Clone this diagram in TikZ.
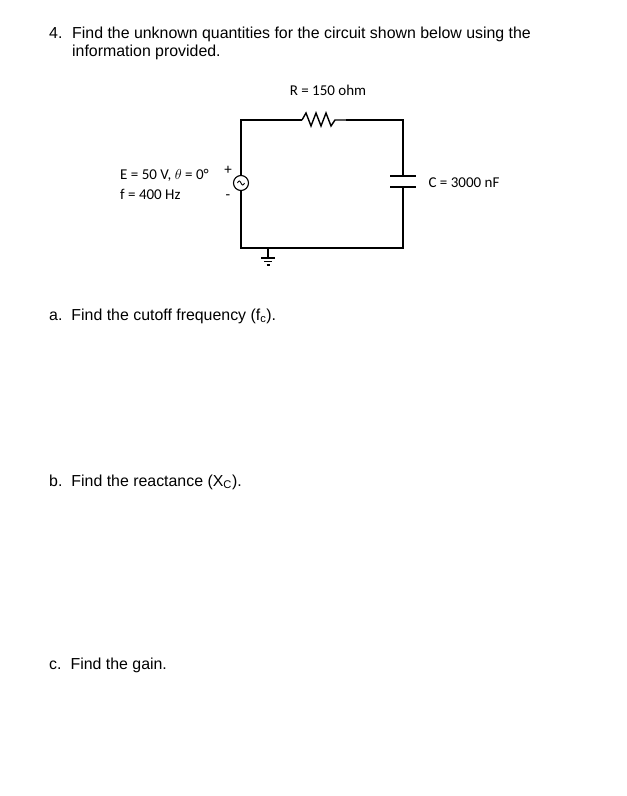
\documentclass[tikz,border=0pt]{standalone}
\usepackage{fontspec}
\setmainfont{Liberation Sans}
\newfontfamily\carlitofont{Carlito}
\usetikzlibrary{positioning}
\tikzstyle{question}=[anchor=base west,inner sep=0pt,font=\fontsize{15.9}{18}\selectfont]
\tikzstyle{label}=[inner sep=0pt,font=\carlitofont\fontsize{15}{17}\selectfont]
\tikzstyle{wire}=[line width=1.4pt]
\begin{document}
\begin{tikzpicture}[x=1pt,y=-1pt]
	\useasboundingbox[fill=white] (0,0) rectangle (627,796);
	% questions
	\node[question] (q) at (49,38) {4.};
	\node[question] (q1) at (72,38) {Find the unknown quantities for the circuit shown below using the};
	\node[question] (q2) at (72,56) {information provided.};
	\node[question] (qa) at (49,320) {a.\hspace{9pt}Find the cutoff frequency (f\textsubscript{c}).};
	\node[question] (qb) at (49,486) {b.\hspace{9pt}Find the reactance (X\textsubscript{C}).};
	\node[question] (qc) at (49,669) {c.\hspace{9pt}Find the gain.};

	% corners
	\coordinate (tl) at (241,120);
	\coordinate (tr) at (403,120);
	\coordinate (bl) at (241,248);
	\coordinate (br) at (403,248);
	\coordinate (ra) at (302,120);
	\coordinate (rb) at (346,120);
	\coordinate (ca) at (403,176);
	\coordinate (cb) at (403,187);
	\coordinate (gnd) at (268,248);

	% source
	\node[draw,line width=1.1pt,circle,minimum size=15pt,inner sep=0pt] (src) at (241,183) {};
	\draw[line width=0.9pt] ([xshift=-3.5pt]src.center) sin ++(1.75,-2) cos ++(1.75,2) sin ++(1.75,2) cos ++(1.75,-2);

	% wires
	\draw[wire] (src.north) -- (tl) -- (ra);
	\draw[wire] (ra) -- ++(4,-7) -- ++(5,13) -- ++(5,-13) -- ++(5,13) -- ++(5,-13) -- ++(5,13) -- ++(4,-6) -- (rb);
	\draw[wire] (rb) -- (tr) -- (ca);
	\draw[wire] (ca) ++(-13,0) -- ++(26,0);
	\draw[wire] (cb) ++(-13,0) -- ++(26,0);
	\draw[wire] (cb) -- (br) -- (bl) -- (src.south);
	\draw[wire] (gnd) -- ++(0,10);
	\draw[wire] (gnd) ++(-7,10) -- ++(14,0);
	\draw[wire] (gnd) ++(-4,13.5) -- ++(8,0);
	\draw[wire] (gnd) ++(-1.5,17) -- ++(3,0);

	% labels
	\node[label] (rl) at (328,90) {R = 150 ohm};
	\node[label] (cl) at (464,183) {C = 3000 nF};
	\node[label,anchor=west] (el) at (120,175) {E = 50 V, $\theta$ = 0°};
	\node[label,anchor=west] (fl) at (120,194) {f = 400 Hz};
	\node[label] (plus) at (228,170) {+};
	\node[label] (minus) at (228,197) {-};
\end{tikzpicture}
\end{document}
